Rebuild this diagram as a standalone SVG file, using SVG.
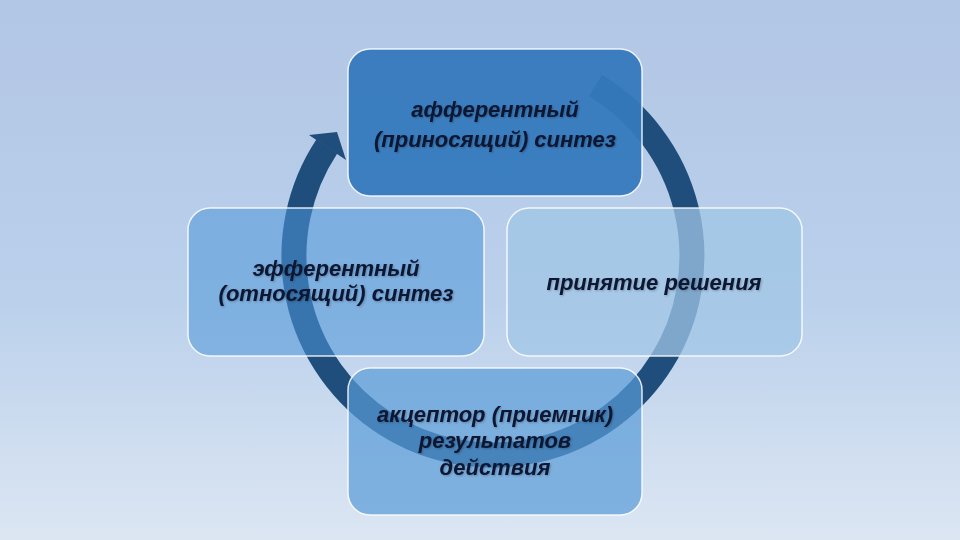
<svg xmlns="http://www.w3.org/2000/svg" width="960" height="540" viewBox="0 0 960 540">
  <defs>
    <linearGradient id="bg" x1="0" y1="0" x2="0" y2="1">
      <stop offset="0" stop-color="#b2c6e5"/>
      <stop offset="0.55" stop-color="#bad0eb"/>
      <stop offset="1" stop-color="#dce6f3"/>
    </linearGradient>
    <filter id="ts" x="-5%" y="-20%" width="110%" height="140%">
      <feDropShadow dx="1" dy="1" stdDeviation="0.8" flood-color="#000000" flood-opacity="0.25"/>
    </filter>
  </defs>
  <style>
    .box { stroke: #ffffff; stroke-opacity: 0.85; stroke-width: 1.5; }
    .lbl { font-family: "Liberation Sans", "DejaVu Sans", sans-serif; font-weight: bold; font-style: italic; font-size: 22px; fill: #0a1630; text-anchor: middle; filter: url(#ts); }
    .ring { fill: none; stroke: #1f4e7c; stroke-width: 25; }
    .head { fill: #1f4e7c; }
  </style>
  <rect x="0" y="0" width="960" height="540" fill="url(#bg)"/>

  <g id="connectors">
    <path class="ring" d="M 595.5 85.5 A 199 199 0 1 1 326.8 146.5"/>
    <polygon class="head" points="309,135 337,132 346,160"/>
  </g>

  <g id="node-afferent">
    <rect class="box" x="348" y="49" width="294" height="147" rx="22" fill="#3579bd" fill-opacity="0.95"/>
    <text class="lbl" x="495" y="117">афферентный</text>
    <text class="lbl" x="495" y="147">(приносящий) синтез</text>
  </g>

  <g id="node-efferent">
    <rect class="box" x="188" y="208" width="296" height="148" rx="22" fill="#4c96d7" fill-opacity="0.55"/>
    <text class="lbl" x="336" y="276">эфферентный</text>
    <text class="lbl" x="336" y="301">(относящий) синтез</text>
  </g>

  <g id="node-decision">
    <rect class="box" x="507" y="208" width="295" height="148" rx="22" fill="#a0c5e6" fill-opacity="0.75"/>
    <text class="lbl" x="654" y="290">принятие решения</text>
  </g>

  <g id="node-acceptor">
    <rect class="box" x="348" y="368" width="294" height="147" rx="22" fill="#599bd7" fill-opacity="0.7"/>
    <text class="lbl" x="495" y="422">акцептор (приемник)</text>
    <text class="lbl" x="495" y="448">результатов</text>
    <text class="lbl" x="495" y="475">действия</text>
  </g>
</svg>
